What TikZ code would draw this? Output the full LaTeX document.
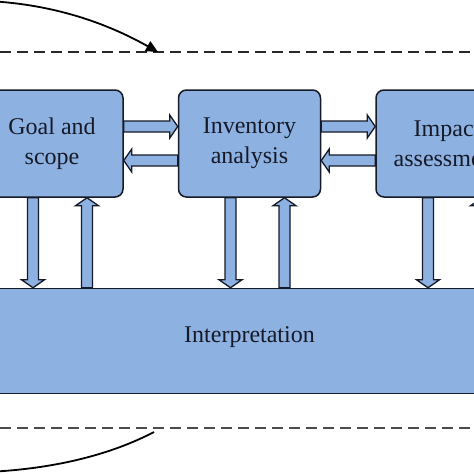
\documentclass[tikz,border=0pt]{standalone}
\usepackage{fontspec}
\setmainfont{Liberation Serif}
\definecolor{lcablue}{RGB}{141,178,226}
\definecolor{lcaline}{RGB}{22,26,40}
\definecolor{lcadash}{RGB}{40,40,40}
\definecolor{lcadash2}{RGB}{75,75,75}
\usetikzlibrary{arrows.meta,positioning,calc}

\begin{document}
\begin{tikzpicture}[x=1pt,y=-1pt,
  stage/.style={draw=lcaline,line width=1.5pt,fill=lcablue,rounded corners=8pt,
    minimum width=142pt,minimum height=107pt,align=center,
    font=\fontsize{24}{30}\selectfont,text=lcaline},
  band/.style={draw=lcaline,line width=1.5pt,fill=lcablue,
    minimum width=535pt,minimum height=105pt,text depth=13pt,text height=16pt,
    font=\fontsize{24}{30}\selectfont,text=lcaline},
  fat/.style={draw=lcaline,line width=1.3pt,fill=lcablue,
    to path={($(\tikztostart)!5.5pt!90:(\tikztotarget)$)
      -- ($(\tikztotarget)!8pt!(\tikztostart)!5.5pt!90:(\tikztotarget)$)
      -- ($(\tikztotarget)!8pt!(\tikztostart)!11.5pt!90:(\tikztotarget)$)
      -- (\tikztotarget)
      -- ($(\tikztotarget)!8pt!(\tikztostart)!11.5pt!-90:(\tikztotarget)$)
      -- ($(\tikztotarget)!8pt!(\tikztostart)!5.5pt!-90:(\tikztotarget)$)
      -- ($(\tikztostart)!5.5pt!-90:(\tikztotarget)$) -- cycle}},
  guide/.style={line width=2.3pt,dash pattern=on 11pt off 6pt},
  iter/.style={line width=1.8pt,black}
]
  \clip (0,0) rectangle (474,474);
  % iteration lines
  \draw[guide,lcadash] (0,52) -- (480,52);
  \draw[guide,lcadash2] (0,428) -- (480,428);
  \coordinate (topfrom) at (-4,1.5);
  \coordinate (topto) at (158,52);
  \coordinate (botfrom) at (-4,471.5);
  \coordinate (botto) at (154,432);
  \draw[iter,-{Triangle[length=12pt,width=11pt]}] (topfrom) .. controls (60,6) and (110,25) .. (topto);
  \draw[iter] (botfrom) .. controls (55,468) and (110,455) .. (botto);
  % phases
  \node[stage] (goal) at (52,143.5) {Goal and\\scope};
  \node[stage,right=54pt of goal] (inv) {Inventory\\analysis};
  \node[stage,right=54pt of inv] (imp) {Impact\\assessment};
  \node[band,below=90pt of inv] (interp) {Interpretation};
  % between phases
  \draw[fat] ([yshift=17pt]goal.east) to ([yshift=17pt]inv.west);
  \draw[fat] ([yshift=-17pt]inv.west) to ([yshift=-17pt]goal.east);
  \draw[fat] ([yshift=17pt]inv.east) to ([yshift=17pt]imp.west);
  \draw[fat] ([yshift=-17pt]imp.west) to ([yshift=-17pt]inv.east);
  % to and from interpretation
  \foreach \ph in {goal,inv,imp}{
    \draw[fat] ([xshift=-19pt]\ph.south) to ([xshift=-19pt]\ph.south |- interp.north);
    \draw[fat] ([xshift=35pt]\ph.south |- interp.north) to ([xshift=35pt]\ph.south);
  }
\end{tikzpicture}
\end{document}
